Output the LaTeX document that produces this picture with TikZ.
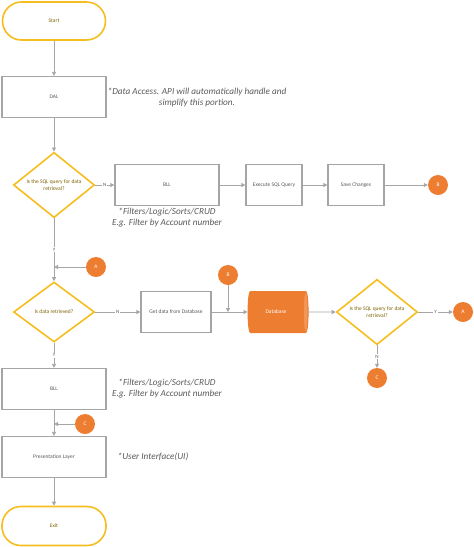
\documentclass[tikz,border=0pt]{standalone}
\usepackage{fontspec}
\setmainfont{Carlito}
\usetikzlibrary{shapes.geometric,arrows.meta}
\definecolor{lineGray}{HTML}{A6A6A6}
\definecolor{boxGray}{HTML}{A5A5A5}
\definecolor{txtGray}{HTML}{595959}
\definecolor{goldLine}{HTML}{F5BE1E}
\definecolor{goldTxt}{HTML}{7F6000}
\definecolor{dbOrange}{HTML}{ED7D31}
\tikzset{
  procbox/.style={draw=boxGray, line width=1.3pt, minimum width=104pt, minimum height=41pt,
    inner sep=1pt, font=\fontsize{5.5}{6.5}\selectfont, text=txtGray},
  smallbox/.style={procbox, minimum width=56pt},
  termnode/.style={draw=goldLine, line width=1.6pt, rounded corners=19pt, minimum width=103pt,
    minimum height=38pt, font=\fontsize{5.5}{6.5}\selectfont, text=goldTxt},
  decision/.style={diamond, draw=goldLine, line width=1.6pt, minimum width=81pt, minimum height=60pt,
    inner sep=0pt, align=center, font=\fontsize{5.5}{6.5}\selectfont, text=goldTxt},
  connector/.style={circle, fill=dbOrange, minimum size=20pt, inner sep=0pt,
    font=\fontsize{5.5}{6}\selectfont, text=white},
  database/.style={cylinder, shape aspect=0.45, draw=dbOrange, cylinder uses custom fill,
    cylinder body fill=dbOrange, cylinder end fill=dbOrange!80!white, line width=1pt,
    minimum height=60pt, minimum width=41pt, font=\fontsize{5.5}{6.5}\selectfont, text=white},
  note/.style={align=center, font=\fontsize{9.2}{11}\selectfont\itshape, text=txtGray},
  flow/.style={draw=lineGray, line width=0.8pt, -{Triangle[length=4pt,width=4pt]}},
  lbl/.style={fill=white, inner sep=1pt, font=\fontsize{5}{6}\selectfont, text=txtGray}
}
\begin{document}
\begin{tikzpicture}[x=1pt,y=-1pt]
\useasboundingbox (0,0) rectangle (474,547);
\node[termnode] (start) at (54,21) {Start};
\node[procbox] (dal) at (54,97) {DAL};
\node[note] (dalnote) at (197,97) {*Data Access. API will automatically handle and\\simplify this portion.};
\node[decision] (q1) at (54,185) {Is the SQL query for data\\retrieval?};
\node[procbox] (bll1) at (167,185) {BLL};
\node[note] (bll1note) at (167,218) {*Filters/Logic/Sorts/CRUD\\E.g. Filter by Account number};
\node[smallbox] (exec) at (274,185) {Execute SQL Query};
\node[smallbox] (save) at (356,185) {Save Changes};
\node[connector] (cB1) at (438,185) {B};
\node[connector] (cA1) at (96,267) {A};
\coordinate (jA) at (54,267);
\node[decision] (q2) at (54,312) {Is data retrieved?};
\node[smallbox, minimum width=70pt] (getdb) at (176,312) {Get data from Database};
\node[connector] (cB2) at (228,275) {B};
\coordinate (jB) at (228,312);
\node[database] (db) at (276,312) {Database};
\node[decision] (q3) at (377,312) {Is the SQL query for data\\retrieval?};
\node[connector] (cA2) at (463,312) {A};
\node[connector] (cC1) at (377,378) {C};
\node[procbox] (bll2) at (54,389) {BLL};
\node[note] (bll2note) at (167,389) {*Filters/Logic/Sorts/CRUD\\E.g. Filter by Account number};
\node[connector] (cC2) at (85,424) {C};
\coordinate (jC) at (54,424);
\node[procbox] (pres) at (54,457) {Presentation Layer};
\node[note] (presnote) at (153,457) {*User Interface(UI)};
\node[termnode, minimum width=104pt, minimum height=39pt] (exit) at (54,526) {Exit};
\draw[flow] (start) -- (dal);
\draw[flow] (dal) -- (q1);
\draw[flow] (q1) -- node[lbl]{N} (bll1);
\draw[flow] (bll1) -- (exec);
\draw[flow] (exec) -- (save);
\draw[flow] (save) -- (cB1);
\draw[flow] (q1) -- node[lbl, pos=0.5]{Y} (q2);
\draw[flow] (cA1) -- (jA);
\draw[flow] (q2) -- node[lbl]{N} (getdb);
\draw[flow] (getdb) -- (db);
\draw[flow] (cB2) -- (jB);
\draw[flow] (db) -- (q3);
\draw[flow] (q3) -- node[lbl]{Y} (cA2);
\draw[flow] (q3) -- node[lbl]{N} (cC1);
\draw[flow] (q2) -- node[lbl]{Y} (bll2);
\draw[flow] (cC2) -- (jC);
\draw[flow] (bll2) -- (pres);
\draw[flow] (pres) -- (exit);
\end{tikzpicture}
\end{document}
